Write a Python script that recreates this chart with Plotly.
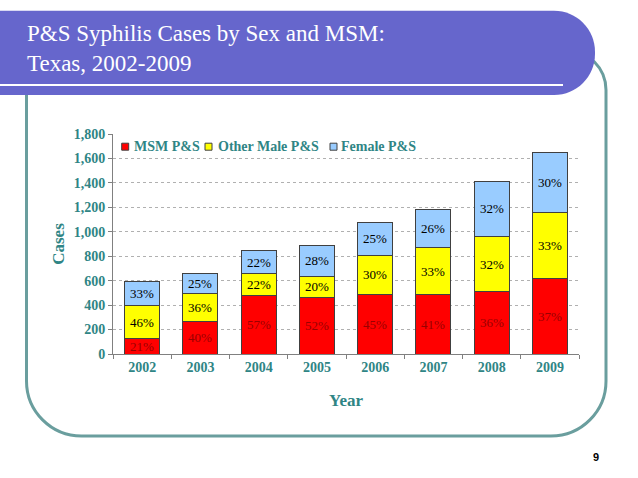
import plotly.graph_objects as go

# ---------------- data ----------------
years = ["2002", "2003", "2004", "2005", "2006", "2007", "2008", "2009"]
msm_cases = [125, 262, 480, 461, 488, 484, 508, 615]
other_male_cases = [273, 232, 182, 177, 320, 388, 454, 543]
female_cases = [196, 161, 181, 248, 266, 309, 451, 492]
msm_pct = [21, 40, 57, 52, 45, 41, 36, 37]
other_male_pct = [46, 36, 22, 20, 30, 33, 32, 33]
female_pct = [33, 25, 22, 28, 25, 26, 32, 30]
series_names = ["MSM P&S", "Other Male P&S", "Female P&S"]
y_ticks = [0, 200, 400, 600, 800, 1000, 1200, 1400, 1600, 1800]

# ---------------- layout helpers ----------------
W, H = 638, 478
ML, MR, MT, MB = 113, 59, 134, 124
PW, PH = W - ML - MR, H - MT - MB

def px(x):
    return (x - ML) / PW

def py(y):
    return (H - MB - y) / PH

def path(cmds):
    out = []
    for c in cmds:
        if isinstance(c, str):
            out.append(c)
        else:
            out.append(f"{px(c[0]):.5f},{py(c[1]):.5f}")
    return " ".join(out)

TEAL = "#2F8585"
FRAME = "#6A9E9E"
PURPLE = "#6666CC"
COLORS = ["#FF0000", "#FFFF00", "#99CCFF"]
TXT = ["#990000", "#000000", "#000000"]
SERIF = "Liberation Serif"

fig = go.Figure()
annotations = []
base = [0] * len(years)
for name, vals, pct, col, tc in zip(series_names,
                                    [msm_cases, other_male_cases, female_cases],
                                    [msm_pct, other_male_pct, female_pct],
                                    COLORS, TXT):
    fig.add_trace(go.Bar(
        x=years, y=vals, name=name,
        marker=dict(color=col, line=dict(color="#404040", width=1)),
        showlegend=False, hoverinfo="skip",
    ))
    for i, (v, p) in enumerate(zip(vals, pct)):
        annotations.append(dict(
            x=i, y=base[i] + v / 2, xref="x", yref="y", text=f"{p}%",
            showarrow=False, xanchor="center", yanchor="middle",
            font=dict(family=SERIF, size=13, color=tc)))
        base[i] += v

k = 0.5523
# frame (rounded rectangle)
L, R, T, B, rt, rb = 26.5, 606, 50, 436, 40, 55
frame = path([
    "M", (L, T + rt), "L", (L, B - rb),
    "C", (L, B - rb + k * rb), (L + rb - k * rb, B), (L + rb, B),
    "L", (R - rb, B),
    "C", (R - rb + k * rb, B), (R, B - rb + k * rb), (R, B - rb),
    "L", (R, T + rt),
    "C", (R, T + rt - k * rt), (R - rt + k * rt, T), (R - rt, T),
    "L", (L + rt, T),
    "C", (L + rt - k * rt, T), (L, T + rt - k * rt), (L, T + rt),
    "Z",
])
# title band
bT, bB, bX, br = 10.7, 95, 595, 41
band = path([
    "M", (-5, bT), "L", (bX - br, bT),
    "C", (bX - br + k * br, bT), (bX, bT + br - k * br), (bX, bT + br),
    "L", (bX, bB - br),
    "C", (bX, bB - br + k * br), (bX - br + k * br, bB), (bX - br, bB),
    "L", (-5, bB), "Z",
])
shapes = [
    dict(type="path", path=frame, xref="paper", yref="paper",
         line=dict(color=FRAME, width=3), fillcolor="rgba(0,0,0,0)", layer="below"),
    dict(type="path", path=band, xref="paper", yref="paper",
         line=dict(width=0), fillcolor=PURPLE, layer="above"),
    dict(type="line", xref="paper", yref="paper", x0=px(-5), x1=px(563),
         y0=py(85), y1=py(85), line=dict(color="white", width=2)),
]

annotations += [
    dict(text="P&S Syphilis Cases by Sex and MSM:<br>Texas, 2002-2009",
         xref="paper", yref="paper", x=px(25), y=py(49), xanchor="left",
         yanchor="middle", align="left", showarrow=False,
         font=dict(family=SERIF, size=23, color="white")),
    dict(text="<b>9</b>", xref="paper", yref="paper", x=px(596), y=py(457),
         xanchor="center", yanchor="middle", showarrow=False,
         font=dict(family="Liberation Sans", size=11, color="black")),
]

# custom legend
leg_box_x = [121.7, 205, 330]
leg_txt_x = [132, 216, 339]
leg_y = 146.7
for bx, tx, name, col in zip(leg_box_x, leg_txt_x, series_names, COLORS):
    shapes.append(dict(type="rect", xref="paper", yref="paper",
                       x0=px(bx), x1=px(bx + 7), y0=py(leg_y - 3.5), y1=py(leg_y + 3.5),
                       fillcolor=col, line=dict(color="#404040", width=1)))
    annotations.append(dict(text=name, xref="paper", yref="paper", x=px(tx), y=py(leg_y),
                            xanchor="left", yanchor="middle", showarrow=False,
                            font=dict(family=SERIF, size=14, color=TEAL, weight="bold")))

fig.update_layout(
    width=W, height=H,
    margin=dict(l=ML, r=MR, t=MT, b=MB, pad=0),
    paper_bgcolor="white", plot_bgcolor="white",
    barmode="stack", bargap=0.4,
    shapes=shapes, annotations=annotations,
    xaxis=dict(
        type="category", categoryorder="array", categoryarray=years,
        range=[-0.5, len(years) - 0.5],
        tickson="boundaries", ticks="outside", ticklen=4, tickcolor="#808080",
        showline=True, linecolor="#808080", linewidth=1, showgrid=False,
        tickfont=dict(family=SERIF, size=14, color=TEAL, weight="bold"),
        title=dict(text="Year", standoff=20,
                   font=dict(family=SERIF, size=17, color=TEAL, weight="bold")),
    ),
    yaxis=dict(
        range=[0, 1800], tickvals=y_ticks, tickformat=",d",
        ticks="outside", ticklen=4, tickcolor="#808080",
        showline=True, linecolor="#808080", linewidth=1,
        showgrid=True, gridcolor="#B0B0B0", griddash="dot", gridwidth=1,
        zeroline=False,
        tickfont=dict(family=SERIF, size=14, color=TEAL, weight="bold"),
        title=dict(text="Cases", standoff=4,
                   font=dict(family=SERIF, size=17, color=TEAL, weight="bold")),
    ),
)

fig.write_html("out.html",
               config={"displayModeBar": False},
               post_script="document.body.style.margin='0';"
                           "document.body.style.overflow='hidden';")
